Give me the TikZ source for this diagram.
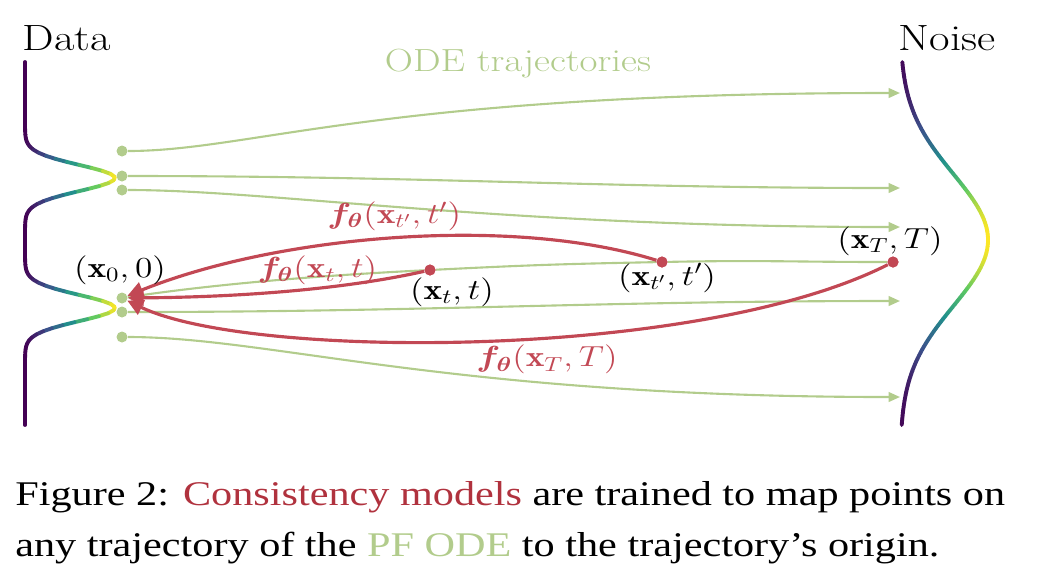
\RequirePackage{fix-cm}
\documentclass[tikz,border=0pt]{standalone}
\usepackage{amsmath,bm}
\usepackage{fontspec}
\newfontfamily\capfont{Liberation Serif}
\usepackage{tikz}
\usetikzlibrary{arrows.meta,positioning}

\definecolor{trajgreen}{RGB}{178,204,140}
\definecolor{cmred}{RGB}{194,72,84}
\definecolor{capred}{RGB}{176,50,62}
\definecolor{vir0}{HTML}{440154}
\definecolor{vir1}{HTML}{3B528B}
\definecolor{vir2}{HTML}{21918C}
\definecolor{vir3}{HTML}{5EC962}
\definecolor{vir4}{HTML}{FDE725}

\newcommand{\sx}[1]{\scalebox{1.22}[1]{#1}}
\newcommand{\fth}{\bm{f}_{\bm{\theta}}}
\newcommand{\setvir}[1]{%
  \pgfmathsetmacro\virv{4*#1}%
  \pgfmathtruncatemacro\virk{min(3,floor(\virv))}%
  \pgfmathsetmacro\virp{100*(\virv-\virk)}%
  \ifcase\virk\relax
    \colorlet{vircol}{vir1!\virp!vir0}%
  \or \colorlet{vircol}{vir2!\virp!vir1}%
  \or \colorlet{vircol}{vir3!\virp!vir2}%
  \or \colorlet{vircol}{vir4!\virp!vir3}%
  \fi}

\begin{document}
\begin{tikzpicture}[x=0.02cm,y=-0.02cm,
  traj/.style={trajgreen,line width=1.2pt,-{Triangle[length=6.5pt,width=5.5pt]}},
  gdot/.style={circle,fill=trajgreen,inner sep=0pt,minimum size=0.22cm},
  rdot/.style={circle,fill=cmred,inner sep=0pt,minimum size=0.22cm},
  fmap/.style={cmred,line width=1.8pt,-{Triangle[length=9pt,width=9pt]}},
  lbl/.style={font=\fontsize{16.5}{19}\selectfont},
  flbl/.style={lbl,text=cmred},
  head/.style={font=\fontsize{20.8}{24}\selectfont,anchor=base},
  captxt/.style={font=\capfont\fontsize{19.7}{24}\selectfont,anchor=base west,inner sep=0pt}]
\useasboundingbox (0,0) rectangle (1037,583);

% density curves
\foreach \i in {0,...,119}{
  \pgfmathsetmacro\ya{62+3.025*\i}
  \pgfmathsetmacro\yb{62+3.025*(\i+1)}
  \pgfmathsetmacro\va{exp(max(-10,-0.5*((\ya-178)/13)*((\ya-178)/13)))+exp(max(-10,-0.5*((\ya-308)/13)*((\ya-308)/13)))}
  \pgfmathsetmacro\vb{exp(max(-10,-0.5*((\yb-178)/13)*((\yb-178)/13)))+exp(max(-10,-0.5*((\yb-308)/13)*((\yb-308)/13)))}
  \setvir{(\va+\vb)/2}
  \draw[vircol,line width=2.2pt,line cap=round] (25+90*\va,\ya) -- (25+90*\vb,\yb);
  \pgfmathsetmacro\na{exp(max(-10,-0.5*((\ya-240)/66)*((\ya-240)/66)))}
  \pgfmathsetmacro\nb{exp(max(-10,-0.5*((\yb-240)/66)*((\yb-240)/66)))}
  \setvir{(\na+\nb)/2}
  \draw[vircol,line width=2.2pt,line cap=round] (900+88*\na,\ya) -- (900+88*\nb,\yb);
}

\node[head] (data) at (67,50) {\sx{Data}};
\node[head] (noise) at (947,50) {\sx{Noise}};
\node[head,text=trajgreen,font=\fontsize{18.2}{21}\selectfont] (ode) at (518,71) {\sx{ODE trajectories}};

% start points
\node[gdot] (d1) at (122,151) {};
\node[gdot] (d2) at (122,176) {};
\node[gdot] (d3) at (122,190) {};
\node[gdot] (x0) at (122,298) {};
\node[gdot] (d5) at (122,312) {};
\node[gdot] (d6) at (122,337) {};

\coordinate (e1) at (900,93);
\coordinate (e2) at (900,188);
\coordinate (e3) at (900,227);
\coordinate (e5) at (900,301);
\coordinate (e6) at (900,397);

\node[rdot] (xt) at (430,270) {};
\node[rdot] (xtp) at (662,262) {};
\node[rdot] (xT) at (893,262) {};

% ODE trajectories
\draw[traj] (d1) .. controls +(130,0) and +(-520,0) .. (e1);
\draw[traj] (d2) .. controls +(300,0) and +(-300,0) .. (e2);
\draw[traj] (d3) .. controls +(150,0) and +(-400,0) .. (e3);
\draw[traj,-] (x0) .. controls +(100,-15) and +(-100,5) .. (xt)
  .. controls +(100,-5) and +(-100,2) .. (xtp)
  .. controls +(100,-2) and +(-100,0) .. (xT);
\draw[traj] (d5) .. controls +(300,0) and +(-300,0) .. (e5);
\draw[traj] (d6) .. controls +(150,0) and +(-450,0) .. (e6);

% consistency maps
\draw[fmap] (xtp) .. controls +(-150,-47) and +(156,-63) .. node[flbl,above,pos=0.5] (f1) {\sx{$\fth(\mathbf{x}_{t'},t')$}} (x0);
\draw[fmap] (xt) .. controls +(-80,18) and +(128,-1) .. node[flbl,above=-2pt,pos=0.42] (f2) {\sx{$\fth(\mathbf{x}_t,t)$}} (x0);
\draw[fmap] (xT) .. controls +(-193,98) and +(128,62) .. node[flbl,below,pos=0.43] (f3) {\sx{$\fth(\mathbf{x}_T,T)$}} (x0);

\node[rdot] at (xt) {};
\node[rdot] at (xtp) {};
\node[rdot] at (xT) {};

% point labels
\node[lbl] (lx0) at ([shift={(-2,-28)}]x0) {\sx{$(\mathbf{x}_0,0)$}};
\node[lbl] (lxt) at ([shift={(22,22)}]xt) {\sx{$(\mathbf{x}_t,t)$}};
\node[lbl] (lxtp) at ([shift={(5,16)}]xtp) {\sx{$(\mathbf{x}_{t'},t')$}};
\node[lbl] (lxT) at ([shift={(-3,-21)}]xT) {\sx{$(\mathbf{x}_T,T)$}};

% caption
\node[captxt] (cap1) at (15,505) {\sx{Figure 2: \textcolor{capred}{Consistency models} are trained to map points on}};
\node[captxt] (cap2) at (15,556) {\sx{any trajectory of the \textcolor{trajgreen}{PF ODE} to the trajectory’s origin.}};
\end{tikzpicture}
\end{document}
